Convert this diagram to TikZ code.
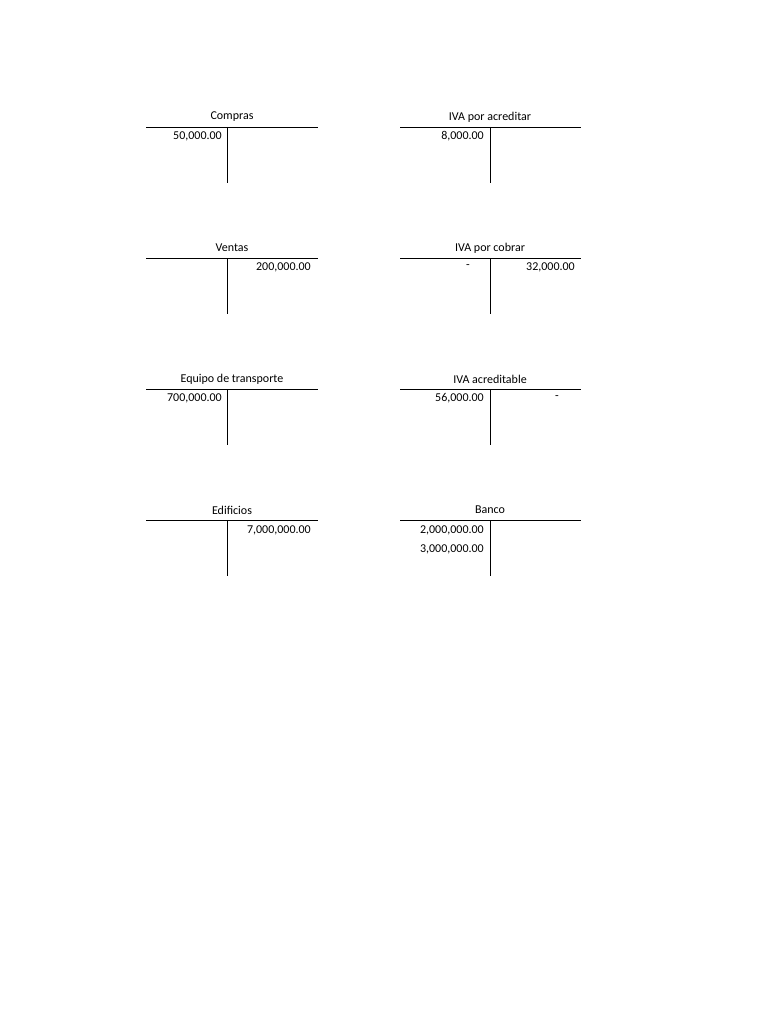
\documentclass[tikz,border=0pt]{standalone}
\usepackage{fontspec}
\setmainfont{Carlito}
\begin{document}
\begin{tikzpicture}[x=1pt,y=-1pt,
  lbl/.style={font=\fontsize{12}{14}\selectfont,inner sep=0pt},
  num/.style={lbl,anchor=east}]
\useasboundingbox (0,0) rectangle (768,1024);
\foreach \x/\v/\xe/\id in {146/227/318/L,400/490/581/R}{
  \foreach \y/\r in {127/1,258/2,389/3,520/4}{
    \coordinate (a\id\r) at (\x,\y);
    \coordinate (b\id\r) at (\xe,\y);
    \coordinate (c\id\r) at (\v,\y);
    \coordinate (d\id\r) at (\v,\y+56);
    \draw[line width=0.8pt] (a\id\r) -- (b\id\r);
    \draw[line width=0.8pt] (c\id\r) -- (d\id\r);
  }}
\node[lbl] (t1) at (232,117) {Compras};
\node[lbl] (t2) at (490,117) {IVA por acreditar};
\node[lbl] (t3) at (232,248) {Ventas};
\node[lbl] (t4) at (490,248) {IVA por cobrar};
\node[lbl] (t5) at (232,379) {Equipo de transporte};
\node[lbl] (t6) at (490,379) {IVA acreditable};
\node[lbl] (t7) at (232,510) {Edificios};
\node[lbl] (t8) at (490,510) {Banco};
\node[num] (n1) at (222,136) {50,000.00};
\node[num] (n2) at (484,136) {8,000.00};
\node[num] (n3) at (311,267) {200,000.00};
\node[num] (n4) at (470,267) {-};
\node[num] (n5) at (575,267) {32,000.00};
\node[num] (n6) at (222,398) {700,000.00};
\node[num] (n7) at (484,398) {56,000.00};
\node[num] (n8) at (559,398) {-};
\node[num] (n9) at (311,530) {7,000,000.00};
\node[num] (n10) at (484,530) {2,000,000.00};
\node[num] (n11) at (484,549) {3,000,000.00};
\end{tikzpicture}
\end{document}
